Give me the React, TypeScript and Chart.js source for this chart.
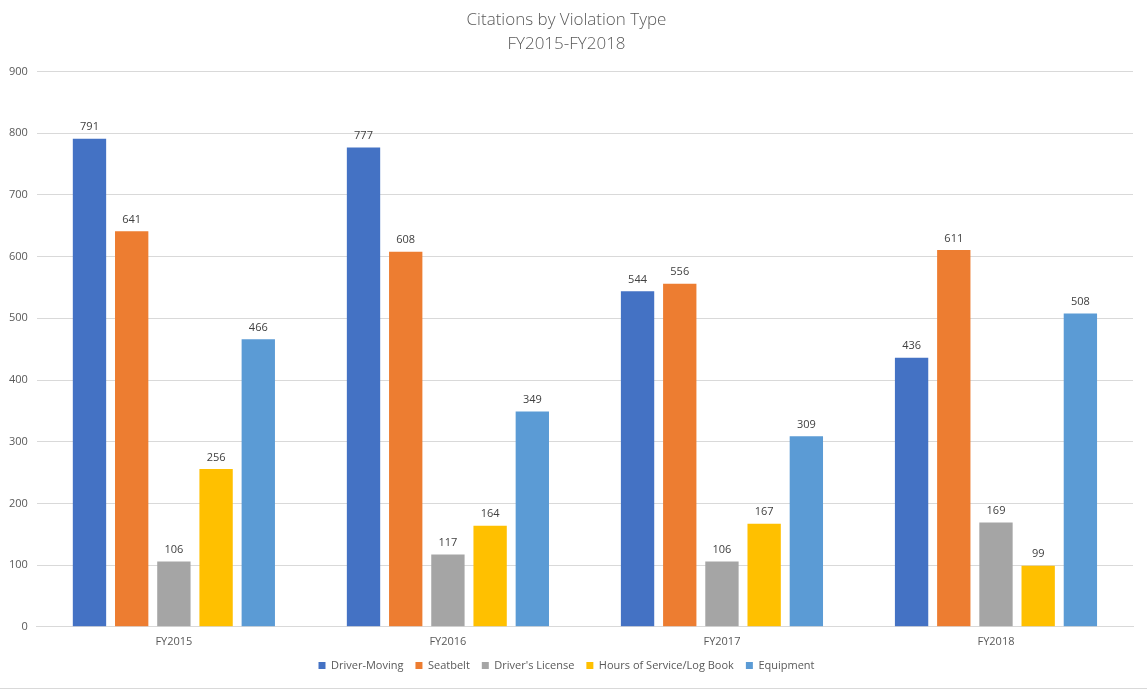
import React, { useEffect, useRef } from "react";
import { Chart, registerables } from "chart.js";

Chart.register(...registerables);

const categories = ["FY2015", "FY2016", "FY2017", "FY2018"];
const seriesNames = ["Driver-Moving", "Seatbelt", "Driver's License", "Hours of Service/Log Book", "Equipment"];
const driverMoving = [791, 777, 544, 436];
const seatbelt = [641, 608, 556, 611];
const driversLicense = [106, 117, 106, 169];
const hoursOfService = [256, 164, 167, 99];
const equipment = [466, 349, 309, 508];
const seriesColors = ["#4472C4", "#ED7D31", "#A5A5A5", "#FFC000", "#5B9BD5"];
const yTicks = [0, 100, 200, 300, 400, 500, 600, 700, 800, 900];

const FONT = "'Open Sans', 'Liberation Sans', sans-serif";

const labelPlugin = {
  id: "valueLabels",
  afterDatasetsDraw(chart: any) {
    const ctx = chart.ctx;
    ctx.save();
    ctx.font = `11px ${FONT}`;
    ctx.fillStyle = "#404040";
    ctx.textAlign = "center";
    ctx.textBaseline = "bottom";
    chart.data.datasets.forEach((ds: any, i: number) => {
      const meta = chart.getDatasetMeta(i);
      meta.data.forEach((bar: any, j: number) => {
        ctx.fillText(String(ds.data[j]), bar.x, bar.y - 6);
      });
    });
    ctx.restore();
  },
};

export default function App() {
  const ref = useRef<HTMLCanvasElement>(null);
  useEffect(() => {
    document.body.style.margin = "0";
    const all = [driverMoving, seatbelt, driversLicense, hoursOfService, equipment];
    const chart = new Chart(ref.current!, {
      type: "bar",
      data: {
        labels: categories,
        datasets: all.map((d, i) => ({
          label: seriesNames[i],
          data: d,
          backgroundColor: seriesColors[i],
          categoryPercentage: 0.77,
          barPercentage: 0.79,
        })),
      },
      options: {
        animation: false,
        responsive: false,
        layout: { padding: { left: 0, right: 14, top: 8, bottom: 7 } },
        plugins: {
          title: {
            display: true,
            text: ["Citations by Violation Type", "FY2015-FY2018"],
            color: "#595959",
            font: { family: FONT, size: 17, weight: "300" as any, lineHeight: 1.4 },
            padding: { top: 0, bottom: 16 },
          },
          legend: {
            position: "bottom",
            labels: {
              boxWidth: 7,
              boxHeight: 7,
              color: "#595959",
              font: { family: FONT, size: 11 },
              padding: 12,
            },
          },
          tooltip: { enabled: false },
        },
        scales: {
          x: {
            grid: { display: false },
            border: { color: "#D9D9D9" },
            ticks: { color: "#595959", font: { family: FONT, size: 11 }, padding: 0 },
          },
          y: {
            min: 0,
            max: 900,
            afterBuildTicks: (axis: any) => {
              axis.ticks = yTicks.map((v) => ({ value: v }));
            },
            grid: { color: "#D9D9D9", drawTicks: false },
            border: { display: false },
            ticks: { color: "#595959", font: { family: FONT, size: 11 }, padding: 9 },
          },
        },
      },
      plugins: [labelPlugin],
    });
    return () => chart.destroy();
  }, []);
  return (
    <div style={{ width: 1147, height: 689, position: "relative", background: "#fff" }}>
      <canvas ref={ref} width={1147} height={688} style={{ display: "block" }} />
      <div style={{ position: "absolute", left: 0, top: 688, width: 1147, height: 1, background: "#D9D9D9" }} />
    </div>
  );
}
